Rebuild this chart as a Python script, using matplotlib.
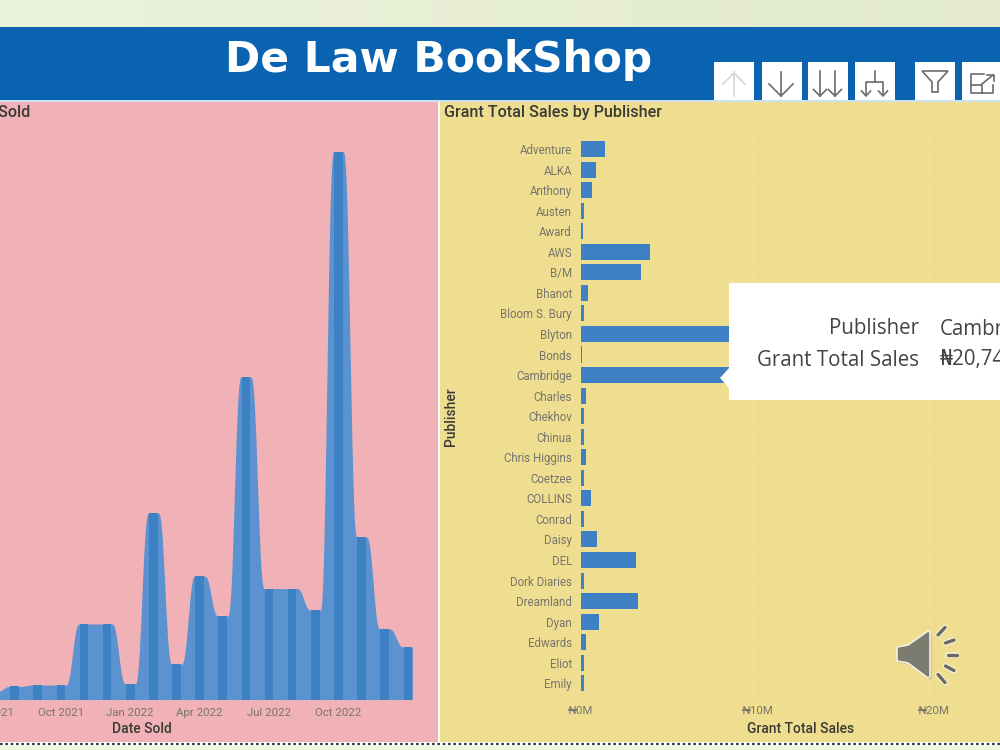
import numpy as np
import matplotlib
matplotlib.use('Agg')
import matplotlib.pyplot as plt
from matplotlib.patches import Polygon, Rectangle

plt.rcParams['font.family'] = ['Roboto', 'DejaVu Sans']

# monthly sales, millions
months = ['Jul 2021', 'Aug 2021', 'Sep 2021', 'Oct 2021', 'Nov 2021', 'Dec 2021', 'Jan 2022',
          'Feb 2022', 'Mar 2022', 'Apr 2022', 'May 2022', 'Jun 2022', 'Jul 2022', 'Aug 2022',
          'Sep 2022', 'Oct 2022', 'Nov 2022', 'Dec 2022', 'Jan 2023']
month_sales = [0.27, 0.46, 0.51, 0.51, 2.67, 2.67, 0.55, 6.59, 1.25, 4.36, 2.95, 11.4,
               3.92, 3.92, 3.16, 19.35, 5.74, 2.49, 1.86]
month_ticks = ['Jul 2021', 'Oct 2021', 'Jan 2022', 'Apr 2022', 'Jul 2022', 'Oct 2022']

publishers = ['Adventure', 'ALKA', 'Anthony', 'Austen', 'Award', 'AWS', 'B/M', 'Bhanot',
              'Bloom S. Bury', 'Blyton', 'Bonds', 'Cambridge', 'Charles', 'Chekhov', 'Chinua',
              'Chris Higgins', 'Coetzee', 'COLLINS', 'Conrad', 'Daisy', 'DEL', 'Dork Diaries',
              'Dreamland', 'Dyan', 'Edwards', 'Eliot', 'Emily']
publisher_sales = [1.38, 0.85, 0.64, 0.15, 0.09, 3.93, 3.4, 0.38, 0.19, 14.0, 0.08, 20.74,
                   0.28, 0.17, 0.15, 0.28, 0.15, 0.55, 0.17, 0.91, 3.12, 0.17, 3.25, 1.02,
                   0.26, 0.15, 0.15]
sales_ticks = [0, 10, 20]
sales_tick_labels = ['₦0M', '₦10M', '₦20M']

BLUE_DARK = '#3d80c4'
BLUE_LIGHT = '#5a93d0'
PINK = '#f0b2b6'
YELLOW = '#f0de90'
BANNER = '#0a63b0'
TICK_GREY = '#77756c'
TITLE_DARK = '#3a3a36'

W, H = 1000, 750


def px_axes(fig, left, top, right, bottom):
    return fig.add_axes([left / W, 1 - bottom / H, (right - left) / W, (bottom - top) / H])


def smooth_curve(xs, ys, hold=0.2):
    # flat around each month, eased change in between
    out_x = []
    out_y = []
    for i in range(len(xs) - 1):
        t = np.linspace(0, 1, 40)
        eased = t * t * t * (t * (6 * t - 15) + 10)
        out_x.extend(xs[i] + hold + t * (xs[i + 1] - xs[i] - 2 * hold))
        out_y.extend(ys[i] + eased * (ys[i + 1] - ys[i]))
    out_x = [xs[0] - hold] + out_x + [xs[-1] + hold]
    out_y = [ys[0]] + out_y + [ys[-1]]
    return np.array(out_x), np.array(out_y)


fig = plt.figure(figsize=(10, 7.5), dpi=100)

# page background and panels
page = fig.add_axes([0, 0, 1, 1], zorder=0)
page.axis('off')
page.imshow(np.linspace(0, 1, 200).reshape(1, -1), extent=(0, W, 27, 0), aspect='auto',
            cmap=matplotlib.colors.LinearSegmentedColormap.from_list('g', ['#ebf2dc', '#e3ebcc']))
page.set_xlim(0, W)
page.set_ylim(H, 0)
page.add_patch(Rectangle((0, 27), W, 73, color=BANNER, lw=0))
page.add_patch(Rectangle((0, 100), W, 2, color='#cfe0f2', lw=0))
page.add_patch(Rectangle((0, 102), 438, 640, color=PINK, lw=0))
page.add_patch(Rectangle((440, 102), 560, 640, color=YELLOW, lw=0))
page.add_patch(Rectangle((0, 742), W, 4, color='white', lw=0))
page.add_patch(Rectangle((0, 746), W, 4, color='#eef5e0', lw=0))
page.plot([0, W], [744, 744], color='#3c3c3c', lw=1.6, ls=(0, (1.2, 1.2)))
page.text(439, 60, 'De Law BookShop', color='white', fontsize=30.5, fontweight='bold',
          family='DejaVu Sans', ha='center', va='center')

# left chart, runs off the left edge of the page
px_per_month = 23.13
month_x = np.arange(len(months))
ax_left = -60
ax_right = 437
px0 = 211.2 + px_per_month * (0 - 8.5 - 1)
ax1 = px_axes(fig, ax_left, 102, ax_right, 699.5)
ax1.patch.set_alpha(0)
ax1.set_xlim((ax_left - px0) / px_per_month, (ax_right - px0) / px_per_month)
ax1.set_ylim(0, (699.5 - 102) / 141.5 * 5)
curve_x, curve_y = smooth_curve(month_x, month_sales)
ax1.fill_between(curve_x, 0, curve_y, color=BLUE_LIGHT, lw=0, zorder=2)
ax1.bar(month_x, month_sales, width=0.37, color=BLUE_DARK, lw=0, zorder=3)
ax1.set_xticks([months.index(m) for m in month_ticks])
ax1.set_xticklabels(month_ticks, fontsize=8.2, color=TICK_GREY)
ax1.set_yticks([5, 10, 15])
ax1.set_yticklabels([])
ax1.tick_params(length=0, pad=6)
ax1.grid(color='#e3b4c0', lw=0.7, ls=(0, (1, 2)), zorder=1)
ax1.set_axisbelow(True)
for s in ax1.spines.values():
    s.set_visible(False)

# right chart
bar_pitch = 20.55
ax2 = px_axes(fig, 581, 130, 1000, 695)
ax2.patch.set_alpha(0)
ax2.set_xlim(0, (1000 - 581) / 17.65)
ax2.set_ylim((695 - 149) / bar_pitch, (130 - 149) / bar_pitch)
ax2.barh(np.arange(len(publishers)), publisher_sales, height=0.78, color=BLUE_DARK, lw=0, zorder=3)
ax2.set_yticks(np.arange(len(publishers)))
ax2.set_yticklabels(publishers, fontsize=8.3, color=TICK_GREY)
ax2.set_xticks(sales_ticks)
ax2.set_xticklabels(sales_tick_labels, fontsize=8.2, color=TICK_GREY)
ax2.tick_params(axis='y', length=0, pad=6.5)
ax2.tick_params(axis='x', length=0, pad=8)
ax2.grid(axis='x', color='#dccb80', lw=0.7, ls=(0, (1, 2)), zorder=1)
ax2.set_axisbelow(True)
for s in ax2.spines.values():
    s.set_visible(False)

# overlay: titles, tooltip, buttons, speaker
top = fig.add_axes([0, 0, 1, 1], zorder=10)
top.set_xlim(0, W)
top.set_ylim(H, 0)
top.axis('off')
top.patch.set_alpha(0)
top.text(30, 113, 'Grant Total Sales by Date Sold', fontsize=11.6, fontweight='medium', color=TITLE_DARK,
         ha='right', va='center')
top.text(444, 113, 'Grant Total Sales by Publisher', fontsize=11.6, fontweight='medium', color=TITLE_DARK,
         ha='left', va='center')
top.text(142, 729, 'Date Sold', fontsize=10, fontweight='medium', color=TITLE_DARK, ha='center', va='center')
top.text(801, 729, 'Grant Total Sales', fontsize=10, fontweight='medium', color=TITLE_DARK, ha='center', va='center')
top.text(451, 417, 'Publisher', fontsize=10, fontweight='medium', color=TITLE_DARK, rotation=90,
         ha='center', va='center')

top.add_patch(Rectangle((729, 283), 271, 117, color='white', lw=0))
top.add_patch(Polygon([(729, 368), (720, 378), (729, 388)], color='white', lw=0))
tip_font = ['Open Sans', 'DejaVu Sans']
top.text(919, 329, 'Publisher', fontsize=14.8, color='#444444', family=tip_font, ha='right', va='center')
top.text(919, 360, 'Grant Total Sales', fontsize=14.8, color='#444444', family=tip_font, ha='right', va='center')
top.text(940, 329, 'Cambridge', fontsize=14.8, color='#444444', family=tip_font, ha='left', va='center')
top.text(940, 360, '₦20,740,000', fontsize=14.8, color='#444444', family=tip_font, ha='left', va='center')

for bx0, bx1 in [(714, 754), (761.5, 801.5), (808, 848), (855, 895), (915, 955), (962, 1002)]:
    top.add_patch(Rectangle((bx0, 61.5), bx1 - bx0, 38.5, color='white', lw=0))

ICON = '#6e6a68'


def arrow(x, y0, y1, w, color=ICON, lw=1.2):
    top.plot([x, x], [y0, y1], color=color, lw=lw)
    top.plot([x - w, x, x + w], [y1 - w, y1, y1 - w], color=color, lw=lw)


# up arrow is greyed out
top.plot([734, 734], [72, 96], color='#d8d4d0', lw=1.2)
top.plot([723, 734, 745], [84, 73, 84], color='#d8d4d0', lw=1.2)
arrow(781, 72, 96, 12)
arrow(820, 71, 96, 6.5)
arrow(835, 71, 96, 6.5)
top.plot([874.5, 874.5], [70.5, 82], color=ICON, lw=1.2)
top.plot([866, 866, 883, 883], [95, 82, 82, 95], color=ICON, lw=1.2)
top.plot([861.5, 866, 870.5], [91, 96, 91], color=ICON, lw=1.2)
top.plot([878.5, 883, 887.5], [91, 96, 91], color=ICON, lw=1.2)
top.add_patch(Polygon([(922, 71), (948, 71), (938, 82), (938, 92), (932, 92), (932, 82)],
                      closed=True, fill=False, ec=ICON, lw=1.2))
top.plot([984, 971, 971, 993, 993], [74, 74, 93, 93, 85], color=ICON, lw=1.2)
top.plot([971, 982, 982], [85, 85, 93], color=ICON, lw=1.2)
top.plot([982, 993], [84, 75], color=ICON, lw=1.2)
top.plot([987, 994, 994], [74.5, 74.5, 81], color=ICON, lw=1.2)

# speaker
cone = [(897, 647), (908, 645), (928, 631), (930, 632), (930, 677), (928, 678), (908, 663), (897, 661)]
top.add_patch(Polygon([(a + 1.5, b + 1.5) for a, b in cone], color='#b8ad78', lw=0))
top.add_patch(Polygon(cone, fc='#7c7b70', ec='#f4f1df', lw=1.2, joinstyle='round'))
rays = [((938, 635), (945, 627.5)), ((945.5, 643), (954, 640)), ((947.5, 654.5), (957, 654.5)),
        ((945.5, 666), (954, 670.5)), ((938, 674.5), (945, 682.5))]
for a, b in rays:
    top.plot([a[0], b[0]], [a[1], b[1]], color='#f4f1df', lw=4, solid_capstyle='round')
    top.plot([a[0], b[0]], [a[1], b[1]], color='#6b6a60', lw=2.4, solid_capstyle='round')

fig.savefig('out.png', dpi=100)
